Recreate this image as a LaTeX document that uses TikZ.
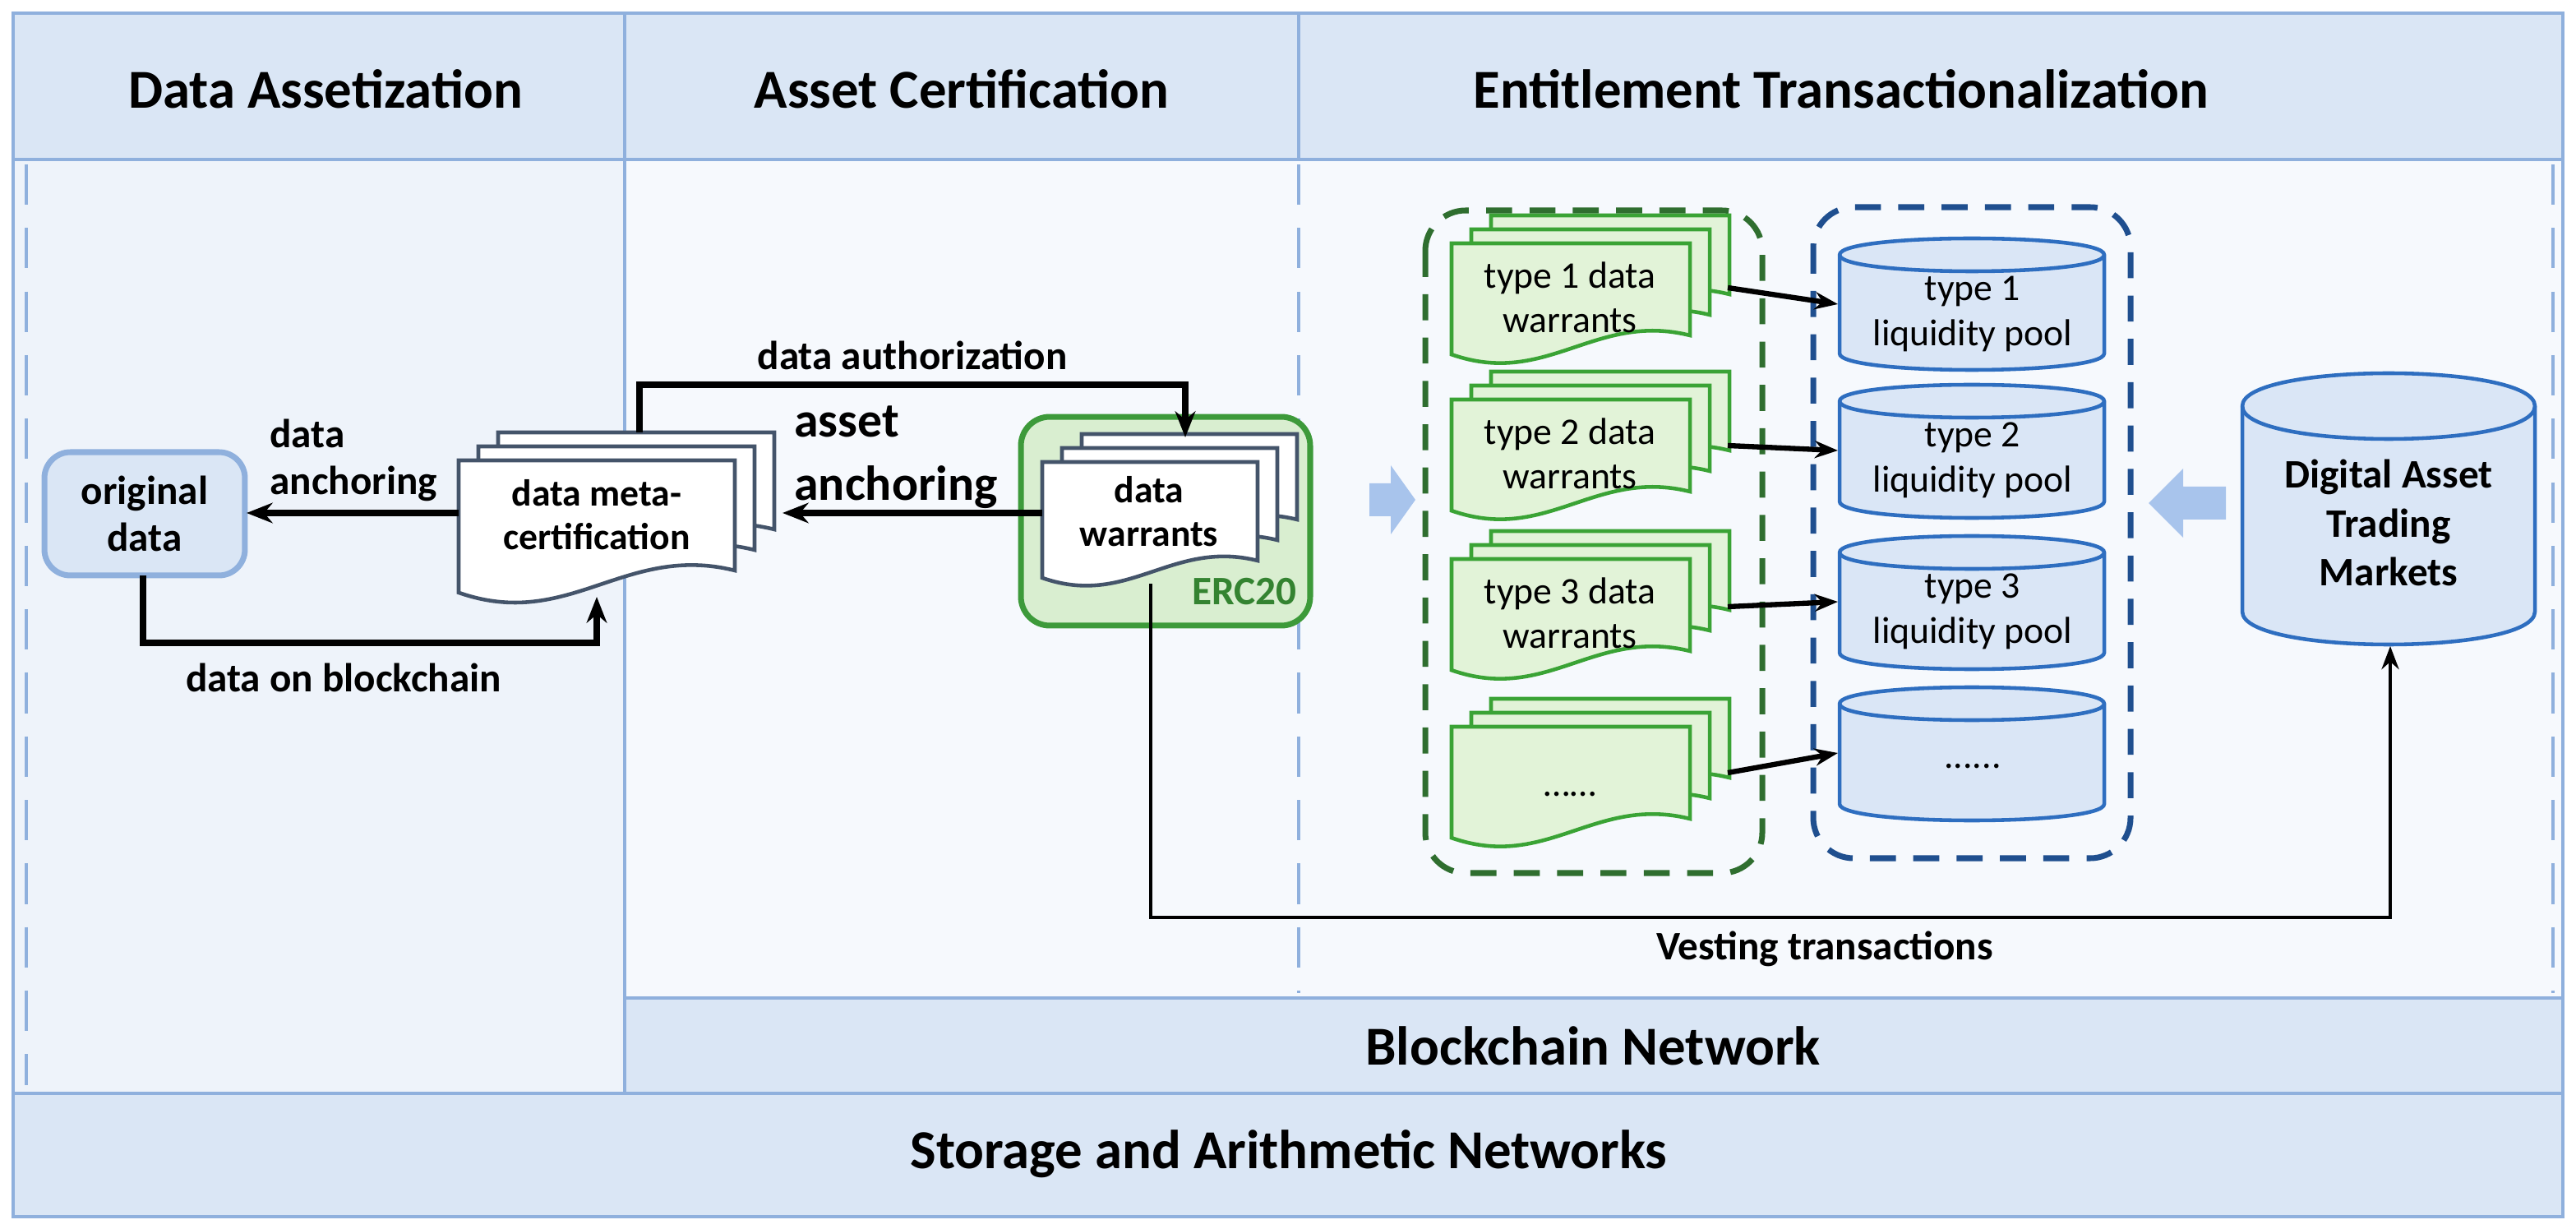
\documentclass[tikz,border=0pt]{standalone}
\usepackage{fontspec}
\setmainfont{Carlito}
\usetikzlibrary{arrows.meta,calc}
\definecolor{hdr}{HTML}{DAE6F5}
\definecolor{hdrline}{HTML}{8FB0DD}
\definecolor{bodyL}{HTML}{EEF3FA}
\definecolor{bodyR}{HTML}{F6F9FD}
\definecolor{cylf}{HTML}{DAE6F6}
\definecolor{cyls}{HTML}{2E6EC0}
\definecolor{grf}{HTML}{E2F3D8}
\definecolor{grs}{HTML}{3AA335}
\definecolor{erc}{HTML}{D9EED0}
\definecolor{ercs}{HTML}{3D9A3A}
\definecolor{grd}{HTML}{2F6E2F}
\definecolor{bld}{HTML}{1F4F8F}
\definecolor{blk}{HTML}{A8C4EC}
\definecolor{docs}{HTML}{44546A}
\tikzset{
  hdrtxt/.style={font=\fontsize{19}{22}\selectfont\bfseries},
  lbl/.style={font=\fontsize{14}{16}\selectfont\bfseries, align=left},
  doctxt/.style={font=\fontsize{13}{15}\selectfont\bfseries, align=center},
  gtxt/.style={font=\fontsize{13}{15.5}\selectfont, align=center},
  conn/.style={line width=2.2pt, -{Stealth[length=9pt,width=7pt]}},
  thin/.style={line width=1.2pt, -{Stealth[length=8pt,width=6pt]}},
  vline/.style={hdrline, line width=1.2pt, dash pattern=on 14pt off 8pt},
}
% doc shape: x y(top) w h
\newcommand\docshape[6]{%
  \filldraw[fill=#5, draw=#6, line width=1.3pt] (#1,#2) -- ({#1+#3},#2) -- ({#1+#3},{#2+#4})
   .. controls ({#1+0.6*#3},{#2+#4-0.1*#3}) and ({#1+0.4*#3},{#2+#4+0.22*#3}) .. (#1,{#2+#4+0.08*#3}) -- cycle;}
\newcommand\docstack[6]{%
  \docshape{#1+24}{#2-17}{#3}{#4-8}{#5}{#6}
  \docshape{#1+12}{#2-8.5}{#3}{#4-4}{#5}{#6}
  \docshape{#1}{#2}{#3}{#4}{#5}{#6}}
% cylinder: x1 x2 ytop ybot r
\newcommand\cyl[5]{%
  \filldraw[fill=cylf, draw=cyls, line width=1.3pt] (#1,{#3+#5}) -- (#1,{#4-#5})
   .. controls (#1,{#4-#5+1.333*#5}) and (#2,{#4-#5+1.333*#5}) .. (#2,{#4-#5}) -- (#2,{#3+#5})
   .. controls (#2,{#3+#5-1.333*#5}) and (#1,{#3+#5-1.333*#5}) .. cycle;
  \draw[cyls, line width=1.3pt] (#1,{#3+#5}) .. controls (#1,{#3+#5+1.333*#5}) and (#2,{#3+#5+1.333*#5}) .. (#2,{#3+#5});}
\begin{document}
\begin{tikzpicture}[x=0.02cm,y=-0.02cm]
\useasboundingbox (0,0) rectangle (1567,747.5);
\fill[white] (0,0) rectangle (1567,747.5);
% backgrounds
\fill[bodyL] (8,97) rectangle (380,665);
\fill[bodyR] (380,97) rectangle (1559,607);
\filldraw[fill=hdr, draw=hdrline, line width=1.2pt] (8,8) rectangle (1559,97);
\draw[hdrline, line width=1.2pt] (380,8) -- (380,97) (790,8) -- (790,97);
\filldraw[fill=hdr, draw=hdrline, line width=1.2pt] (380,607) rectangle (1559,665);
\filldraw[fill=hdr, draw=hdrline, line width=1.2pt] (8,665) rectangle (1559,740);
\draw[hdrline, line width=1.2pt] (8,8) rectangle (1559,740);
\draw[hdrline, line width=1.2pt] (380,97) -- (380,665);
\draw[vline] (16,100) -- (16,660);
\draw[vline] (790,100) -- (790,604);
\draw[vline] (1553,100) -- (1553,604);
% headers
\node[hdrtxt] (h1) at (198,54) {Data Assetization};
\node[hdrtxt] (h2) at (585,54) {Asset Certification};
\node[hdrtxt] (h3) at (1120,54) {Entitlement Transactionalization};
\node[hdrtxt] (bn) at (969,636) {Blockchain Network};
\node[hdrtxt] (sn) at (784,702) {Storage and Arithmetic Networks};
% original data
\node[draw=hdrline, fill=hdr, line width=2pt, rounded corners=9pt, minimum width=2.44cm, align=center, inner sep=0pt, font=\fontsize{14}{16}\selectfont\bfseries, minimum height=1.5cm] (od) at (88,312.5) {original\\data};
% meta certification
\docstack{279}{280}{168}{67}{white}{docs}
\node[doctxt] (meta) at (363,313) {data meta-\\certification};
% ERC20
\node[draw=ercs, fill=erc, line width=2pt, rounded corners=10pt, minimum width=3.52cm, minimum height=2.54cm] (ercbox) at (709,317) {};
\node[font=\fontsize{14}{16}\selectfont\bfseries, text=ercs!85!black, anchor=south east] (erc) at (795,374) {ERC20};
\docstack{634}{281}{131}{60}{white}{docs}
\node[doctxt] (dw) at (699,311) {data\\warrants};
% connectors left
\coordinate (odR) at (150,312);
\coordinate (metaL) at (279,312);
\draw[conn] (metaL) -- (odR);
\node[lbl, anchor=west] (la) at (158,280) {data\\anchoring};
\coordinate (odB) at (87,350);
\coordinate (metaB) at (363,363);
\draw[conn] (odB) -- (87,391) -- (363,391) -- (metaB);
\node[lbl] (lb) at (209,412) {data on blockchain};
\coordinate (metaT) at (389,263);
\coordinate (dwT) at (721,266);
\draw[conn] (metaT) -- (389,234) -- (721,234) -- (dwT);
\node[lbl] (lc) at (555,216) {data authorization};
\coordinate (dwL) at (634,312);
\coordinate (metaR) at (476,312);
\draw[conn] (dwL) -- (metaR);
\node[font=\fontsize{17}{22}\selectfont\bfseries, align=left, anchor=west] (ld) at (477,278) {asset\\anchoring};
% block arrow right
\fill[blk] (833,294) -- (846,294) -- (846,283) -- (861,304) -- (846,325) -- (846,314) -- (833,314) -- cycle;
% green group
\draw[grd, line width=2pt, dash pattern=on 9pt off 6pt, rounded corners=14pt] (867,128) rectangle (1072,531);
\docstack{883}{148}{145}{56}{grf}{grs}
\docstack{883}{243}{145}{56}{grf}{grs}
\docstack{883}{340}{145}{56}{grf}{grs}
\docstack{883}{442}{145}{56}{grf}{grs}
\node[gtxt] (g1) at (955,181) {type 1 data\\warrants};
\node[gtxt] (g2) at (955,276) {type 2 data\\warrants};
\node[gtxt] (g3) at (955,373) {type 3 data\\warrants};
\node[gtxt] (g4) at (955,483) {……};
% pools
\draw[bld, line width=2pt, dash pattern=on 9pt off 6pt, rounded corners=14pt] (1103,126) rectangle (1296,522);
\cyl{1119}{1280}{145}{225}{10}
\cyl{1119}{1280}{234}{315}{10}
\cyl{1119}{1280}{326}{407}{10}
\cyl{1119}{1280}{418}{499}{10}
\node[gtxt] (p1) at (1200,191) {type 1\\liquidity pool};
\node[gtxt] (p2) at (1200,280) {type 2\\liquidity pool};
\node[gtxt] (p3) at (1200,372) {type 3\\liquidity pool};
\node[gtxt] (p4) at (1200,466) {......};
\foreach \a/\b/\c in {175/185/1,271/274/2,369/366/3,470/458/4}{
  \coordinate (gs\c) at (1051,\a);
  \coordinate (pe\c) at (1118,\b);
  \draw[thin, line width=1.8pt] (gs\c) -- (pe\c);
}
% block arrow left
\fill[blk] (1354,296) -- (1328,296) -- (1328,285) -- (1307,306) -- (1328,327) -- (1328,316) -- (1354,316) -- cycle;
% digital asset
\cyl{1364}{1542}{227}{392}{20}
\node[font=\fontsize{14}{17}\selectfont\bfseries, align=center] (dam) at (1453,318) {Digital Asset\\Trading\\Markets};
% vesting
\coordinate (dwB) at (700,355);
\coordinate (damB) at (1454,393);
\draw[thin] (dwB) -- (700,558) -- (1454,558) -- (damB);
\node[lbl] (lv) at (1110,577) {Vesting transactions};
\end{tikzpicture}
\end{document}
